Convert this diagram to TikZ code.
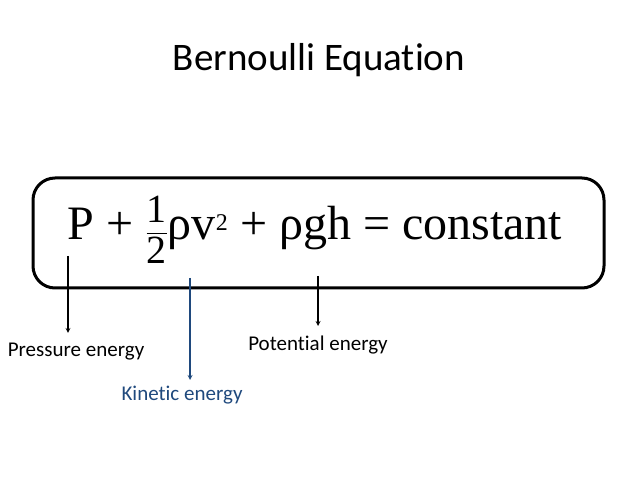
\documentclass[tikz,border=0pt]{standalone}
\usepackage{fontspec}
\usepackage{amsmath}
\setmainfont[RawFeature=-liga]{Carlito}
\newfontfamily\eqfont{Liberation Serif}
\definecolor{kinblue}{RGB}{31,73,125}
\begin{document}
\begin{tikzpicture}
[x=1pt, y=1pt, every node/.style={inner sep=0pt},
 lbl/.style={font=\fontsize{21}{24}\selectfont},
 arr/.style={line width=1.2pt, ->, >=stealth}]
\useasboundingbox (0,0) rectangle (638,-478);
\node (title) at (319,-60) {\fontsize{39}{44}\selectfont Bernoulli Equation};
\node (box) [draw=black, line width=3pt, rounded corners=22pt, minimum width=571pt, minimum height=110pt] at (318.5,-233) {};
\node (eq) at (315,-230) {\fontsize{48}{52}\selectfont\eqfont P + {\fontsize{40}{44}\selectfont$\dfrac{\mbox{\eqfont 1}}{\mbox{\eqfont 2}}$}ρv\textsuperscript{\fontsize{24}{26}\selectfont 2} + ρgh = constant};
\coordinate (p) at (68,-256);
\coordinate (k) at (190,-278);
\coordinate (g) at (318,-276);
\node (pressure) [lbl] at (76,-352) {Pressure energy};
\node (kinetic) [lbl, text=kinblue] at (182,-395) {Kinetic energy};
\node (potential) [lbl] at (318,-345) {Potential energy};
\draw [arr] (p) -- (68,-333);
\draw [arr, color=kinblue] (k) -- (190,-380);
\draw [arr] (g) -- (318,-326);
\end{tikzpicture}
\end{document}
